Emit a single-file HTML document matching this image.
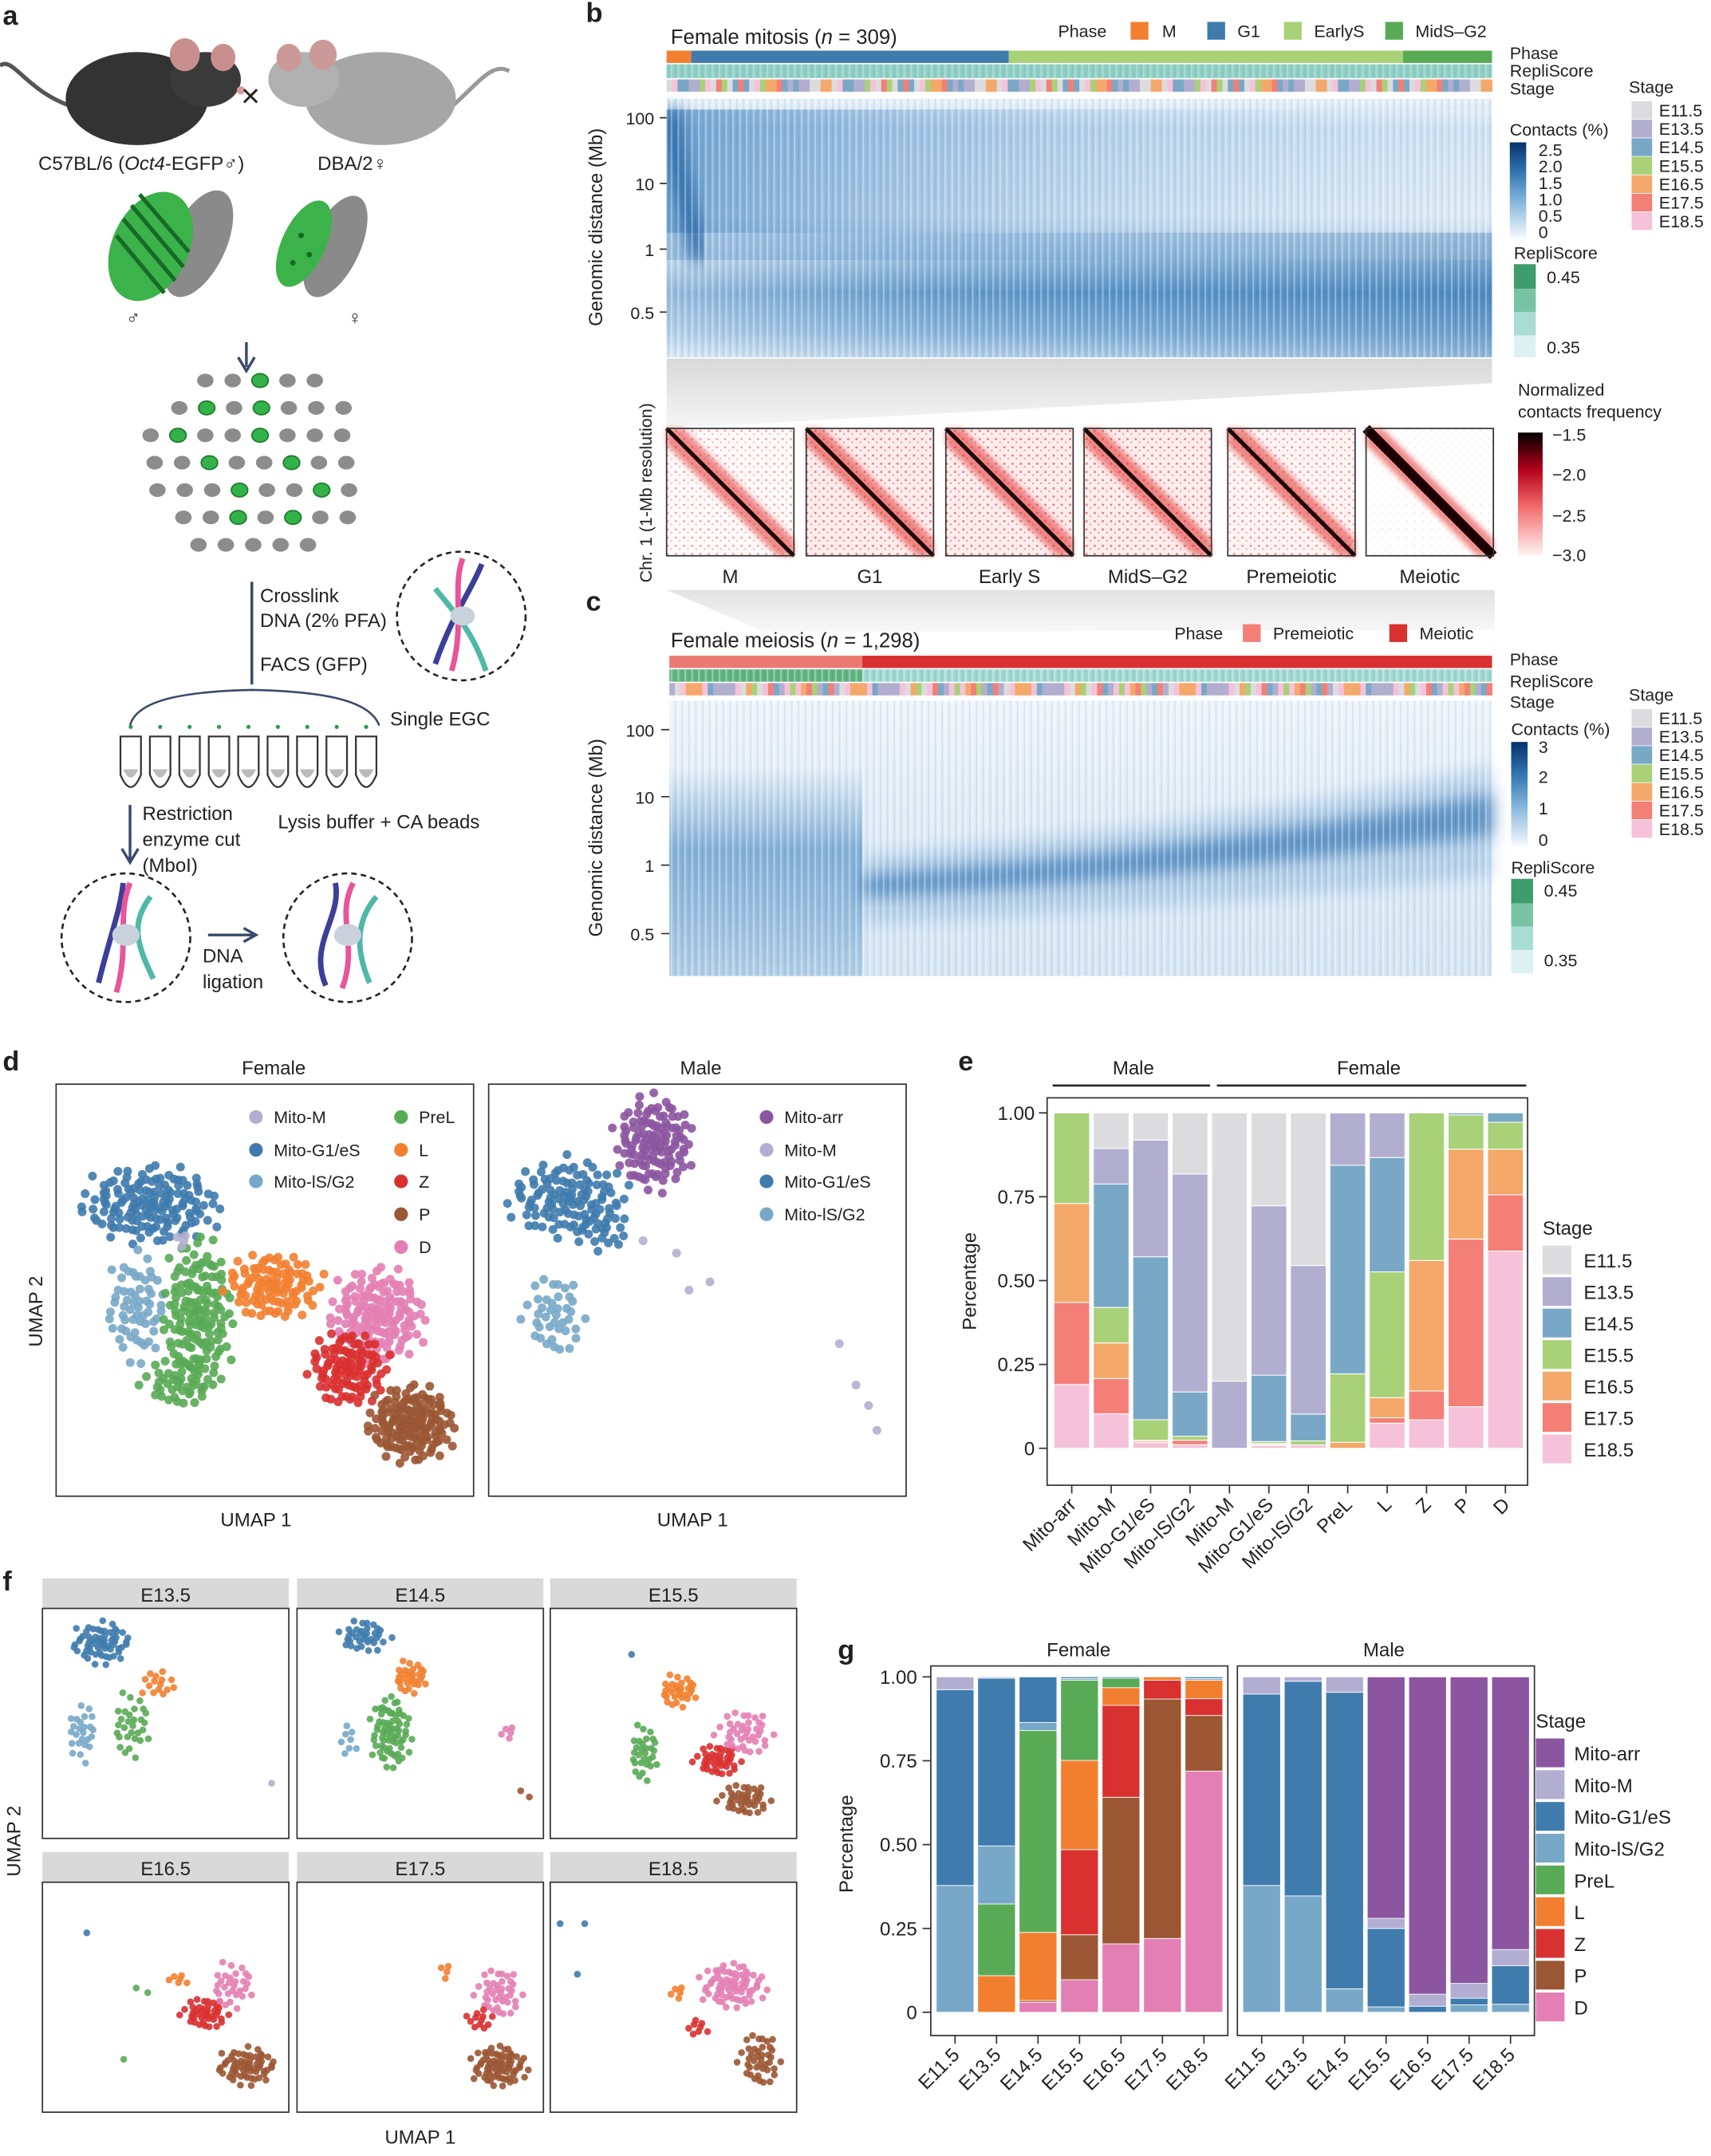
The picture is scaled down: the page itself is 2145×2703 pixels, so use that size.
<!DOCTYPE html>
<html><head><meta charset="utf-8"><title>Figure</title>
<style>
html,body{margin:0;padding:0;background:#fff;}
svg{display:block;font-family:"Liberation Sans",sans-serif;}
text{fill:#231f20;}
.lbl{font-size:14px;}
.sm{font-size:12.5px;}
.pl{font-size:20px;font-weight:bold;}
</style></head>
<body>
<svg id="fig" width="2145" height="2703" viewBox="0 0 1250 1575" preserveAspectRatio="none" xmlns="http://www.w3.org/2000/svg">
<defs>
<linearGradient id="mitoV" x1="0" y1="0" x2="0" y2="1">
<stop offset="0" stop-color="#eaf2f9"/><stop offset="0.12" stop-color="#c4dbee"/><stop offset="0.45" stop-color="#d8e7f3"/><stop offset="0.6" stop-color="#a9c9e4"/><stop offset="0.75" stop-color="#5d97c9"/><stop offset="0.9" stop-color="#8ab6dc"/><stop offset="1" stop-color="#c8ddef"/>
</linearGradient>
<linearGradient id="mitoH" x1="0" y1="0" x2="1" y2="0">
<stop offset="0" stop-color="#3f82bf" stop-opacity="0.8"/><stop offset="0.5" stop-color="#7eaedb" stop-opacity="0.35"/><stop offset="1" stop-color="#ffffff" stop-opacity="0.25"/>
</linearGradient>
<linearGradient id="mitoLow" x1="0" y1="0" x2="1" y2="0">
<stop offset="0" stop-color="#ffffff" stop-opacity="0.35"/><stop offset="0.5" stop-color="#3d7fb9" stop-opacity="0.2"/><stop offset="1" stop-color="#2e6fab" stop-opacity="0.35"/>
</linearGradient>
<linearGradient id="meioV" x1="0" y1="0" x2="0" y2="1">
<stop offset="0" stop-color="#eef4fa"/><stop offset="0.4" stop-color="#e1ecf6"/><stop offset="1" stop-color="#d6e6f3"/>
</linearGradient>
<linearGradient id="meioLeft" x1="0" y1="0" x2="0" y2="1">
<stop offset="0" stop-color="#6ea3d2" stop-opacity="0"/><stop offset="0.4" stop-color="#5d97c9" stop-opacity="0.7"/><stop offset="1" stop-color="#a9c9e4" stop-opacity="0.8"/>
</linearGradient>
<linearGradient id="contactsBar" x1="0" y1="0" x2="0" y2="1">
<stop offset="0" stop-color="#08306b"/><stop offset="0.3" stop-color="#2f73b0"/><stop offset="0.6" stop-color="#7fb2d9"/><stop offset="1" stop-color="#f5f9fd"/>
</linearGradient>
<linearGradient id="normBar" x1="0" y1="0" x2="0" y2="1">
<stop offset="0" stop-color="#000"/><stop offset="0.3" stop-color="#b3001b"/><stop offset="0.6" stop-color="#f26b6b"/><stop offset="1" stop-color="#fff5f5"/>
</linearGradient>
<linearGradient id="wedge" x1="0" y1="0" x2="0" y2="1">
<stop offset="0" stop-color="#cfcfcf"/><stop offset="1" stop-color="#f4f4f4"/>
</linearGradient>
<pattern id="streaks" width="5" height="10" patternUnits="userSpaceOnUse">
<rect x="0" y="0" width="1.2" height="10" fill="#fff" opacity="0.35"/><rect x="3" y="0" width="0.8" height="10" fill="#1d5a99" opacity="0.12"/>
</pattern>
<pattern id="speck" width="6" height="6" patternUnits="userSpaceOnUse">
<rect x="1" y="2" width="1.5" height="1.5" fill="#e4262b" opacity="0.6"/><rect x="4" y="4.5" width="1.2" height="1.2" fill="#e4262b" opacity="0.45"/>
</pattern>
<filter id="blur3"><feGaussianBlur stdDeviation="6"/></filter>
<filter id="blur1"><feGaussianBlur stdDeviation="2"/></filter>
</defs>

<!-- ============ PANEL A ============ -->
<g>
<text class="pl" x="2" y="18">a</text>
<g>
<path d="M60,80 C20,70 10,40 0,48" stroke="#555" stroke-width="3" fill="none"/>
<ellipse cx="100" cy="72" rx="52" ry="34" fill="#333"/>
<ellipse cx="150" cy="58" rx="26" ry="20" fill="#3a3a3a"/>
<ellipse cx="135" cy="40" rx="11" ry="12" fill="#c98f8f"/>
<ellipse cx="163" cy="42" rx="9" ry="10" fill="#c98f8f"/>
<circle cx="176" cy="66" r="3" fill="#d99"/>
</g>
<text x="176" y="78" style="font-size:24px">×</text>
<g>
<path d="M330,78 C350,60 360,45 372,52" stroke="#999" stroke-width="3" fill="none"/>
<ellipse cx="278" cy="72" rx="55" ry="34" fill="#a6a6a6"/>
<ellipse cx="222" cy="58" rx="26" ry="20" fill="#b0b0b0"/>
<ellipse cx="236" cy="40" rx="10" ry="11" fill="#c99"/>
<ellipse cx="211" cy="42" rx="9" ry="10" fill="#c99"/>
</g>
<text class="lbl" x="28" y="124">C57BL/6 (<tspan font-style="italic">Oct4</tspan>-EGFP♂)</text>
<text class="lbl" x="232" y="124">DBA/2♀</text>
<g>
<ellipse cx="145" cy="178" rx="20" ry="42" fill="#8a8a8a" transform="rotate(25 145 178)"/>
<ellipse cx="110" cy="180" rx="28" ry="42" fill="#3cb24a" transform="rotate(25 110 180)"/>
<path d="M90,160 L128,205 M85,172 L120,214 M96,150 L134,195 M102,142 L138,184" stroke="#176b26" stroke-width="3"/>
</g>
<text class="lbl" x="92" y="237">♂</text>
<g>
<ellipse cx="245" cy="180" rx="18" ry="40" fill="#8a8a8a" transform="rotate(25 245 180)"/>
<ellipse cx="222" cy="178" rx="16" ry="34" fill="#3cb24a" transform="rotate(25 222 178)"/>
<circle cx="220" cy="172" r="2" fill="#146b22"/><circle cx="226" cy="186" r="2" fill="#146b22"/><circle cx="214" cy="192" r="2" fill="#146b22"/>
</g>
<text class="lbl" x="254" y="237">♀</text>
<path d="M180,250 L180,268 M174,261 L180,271 L186,261" stroke="#3a4a6a" stroke-width="2" fill="none"/>
<g id="cells"></g>
<path d="M184,425 L184,500" stroke="#3a4a6a" stroke-width="2"/>
<text class="lbl" x="190" y="440">Crosslink</text>
<text class="lbl" x="190" y="458">DNA (2% PFA)</text>
<text class="lbl" x="190" y="490">FACS (GFP)</text>
<g>
<circle cx="337" cy="450" r="47" fill="none" stroke="#222" stroke-dasharray="4 3" stroke-width="1.5"/>
<path d="M318,485 C330,450 345,430 352,412" stroke="#3b3f9a" stroke-width="4" fill="none"/>
<path d="M330,490 C340,455 330,430 338,408" stroke="#e8559a" stroke-width="4" fill="none"/>
<path d="M355,490 C345,460 330,445 318,430" stroke="#4fb8a8" stroke-width="4" fill="none"/>
<ellipse cx="338" cy="450" rx="9" ry="7" fill="#c9d2dc"/>
</g>
<path d="M184,504 C140,505 100,510 95,530 M184,504 C230,505 270,510 277,530" stroke="#3a4a6a" stroke-width="1.5" fill="none"/>
<text class="lbl" x="285" y="530">Single EGC</text>
<g id="tubes"></g>
<path d="M95,588 L95,628 M89,620 L95,630 L101,620" stroke="#3a4a6a" stroke-width="2" fill="none"/>
<text class="lbl" x="104" y="599">Restriction</text>
<text class="lbl" x="104" y="618">enzyme cut</text>
<text class="lbl" x="104" y="637">(MboI)</text>
<text class="lbl" x="203" y="605">Lysis buffer + CA beads</text>
<g>
<circle cx="92" cy="685" r="47" fill="none" stroke="#222" stroke-dasharray="4 3" stroke-width="1.5"/>
<path d="M72,718 C80,685 88,665 90,645" stroke="#3b3f9a" stroke-width="4" fill="none"/>
<path d="M85,725 C95,690 85,670 95,645" stroke="#e8559a" stroke-width="4" fill="none"/>
<path d="M112,715 C100,690 95,675 110,655" stroke="#4fb8a8" stroke-width="4" fill="none"/>
<ellipse cx="92" cy="683" rx="10" ry="8" fill="#c9d2dc"/>
</g>
<path d="M152,683 L185,683 M178,678 L187,683 L178,688" stroke="#3a4a6a" stroke-width="2" fill="none"/>
<text class="lbl" x="148" y="703">DNA</text>
<text class="lbl" x="148" y="722">ligation</text>
<g>
<circle cx="254" cy="685" r="47" fill="none" stroke="#222" stroke-dasharray="4 3" stroke-width="1.5"/>
<path d="M238,720 C225,690 250,670 245,645" stroke="#3b3f9a" stroke-width="4" fill="none"/>
<path d="M250,722 C262,690 245,670 258,645" stroke="#e8559a" stroke-width="4" fill="none"/>
<path d="M270,718 C258,690 262,670 275,655" stroke="#4fb8a8" stroke-width="4" fill="none"/>
<ellipse cx="254" cy="683" rx="10" ry="8" fill="#c9d2dc"/>
</g>
</g>

<!-- ============ PANEL B ============ -->
<g>
<text class="pl" x="428" y="16">b</text>
<text x="490" y="32" style="font-size:15px">Female mitosis (<tspan font-style="italic">n</tspan> = 309)</text>
<g class="sm">
<text x="773" y="27">Phase</text>
<rect x="826" y="16" width="13" height="13" fill="#f27f30"/><text x="849" y="27">M</text>
<rect x="882" y="16" width="13" height="13" fill="#3f7bad"/><text x="904" y="27">G1</text>
<rect x="938" y="16" width="13" height="13" fill="#a8d178"/><text x="960" y="27">EarlyS</text>
<rect x="1012" y="16" width="13" height="13" fill="#59aa55"/><text x="1034" y="27">MidS–G2</text>
</g>
<g>
<rect x="487" y="37" width="18" height="9" fill="#f27f30"/>
<rect x="505" y="37" width="232" height="9" fill="#3f7bad"/>
<rect x="737" y="37" width="288" height="9" fill="#a8d178"/>
<rect x="1025" y="37" width="65" height="9" fill="#59aa55"/>
</g>
<rect x="487" y="47" width="603" height="10" fill="#8fcfc4"/>
<rect x="487" y="47" width="603" height="10" fill="url(#streaks)" opacity="0.8"/>
<g id="stageTrackB"></g>
<rect x="487" y="72" width="603" height="189" fill="url(#mitoV)"/>
<rect x="487" y="80" width="603" height="110" fill="url(#mitoH)" opacity="0.8"/>
<rect x="487" y="170" width="603" height="91" fill="url(#mitoLow)"/>
<path d="M490,80 C495,130 505,160 512,190" stroke="#1f5fa0" stroke-width="14" fill="none" filter="url(#blur3)" opacity="0.8"/>
<rect x="487" y="72" width="603" height="189" fill="url(#streaks)"/>
<g class="sm" text-anchor="end">
<text x="478" y="91">100</text><text x="478" y="139">10</text><text x="478" y="187">1</text><text x="478" y="233">0.5</text>
<path d="M482,86 H487 M482,134 H487 M482,182 H487 M482,228 H487" stroke="#333"/>
</g>
<text class="lbl" transform="translate(440,166) rotate(-90)" text-anchor="middle">Genomic distance (Mb)</text>
<g class="sm">
<text x="1103" y="43">Phase</text><text x="1103" y="56">RepliScore</text><text x="1103" y="69">Stage</text>
</g>
<g id="stageLegB"></g>
<g class="sm">
<text x="1103" y="99">Contacts (%)</text>
<rect x="1103" y="104" width="12" height="70" fill="url(#contactsBar)"/>
<text x="1124" y="114">2.5</text><text x="1124" y="126">2.0</text><text x="1124" y="138">1.5</text><text x="1124" y="150">1.0</text><text x="1124" y="162">0.5</text><text x="1124" y="174">0</text>
</g>
<g class="sm">
<text x="1106" y="189">RepliScore</text>
<rect x="1106" y="193" width="16" height="18" fill="#3e9d6c"/><rect x="1106" y="211" width="16" height="17" fill="#79c3a5"/><rect x="1106" y="228" width="16" height="17" fill="#a9dcd2"/><rect x="1106" y="245" width="16" height="16" fill="#def1f2"/>
<text x="1130" y="207">0.45</text><text x="1130" y="258">0.35</text>
</g>
<polygon points="487,262 1090,262 1090,280 487,313" fill="url(#wedge)" opacity="0.8"/>
<polygon points="487,431 1092,431 1092,460 560,462" fill="url(#wedge)" opacity="0.6"/>
<g id="hicTiles"></g>
<text class="sm" transform="translate(476,360) rotate(-90)" text-anchor="middle">Chr. 1 (1-Mb resolution)</text>
<g class="sm">
<text x="1109" y="289">Normalized</text><text x="1109" y="305">contacts frequency</text>
<rect x="1109" y="316" width="18" height="90" fill="url(#normBar)"/>
<text x="1134" y="322">−1.5</text><text x="1134" y="351">−2.0</text><text x="1134" y="381">−2.5</text><text x="1134" y="410">−3.0</text>
</g>
</g>

<!-- ============ PANEL C ============ -->
<g>
<text class="pl" x="428" y="446">c</text>
<text x="490" y="473" style="font-size:15px">Female meiosis (<tspan font-style="italic">n</tspan> = 1,298)</text>
<g class="sm">
<text x="858" y="467">Phase</text>
<rect x="908" y="456" width="13" height="13" fill="#f47f76"/><text x="930" y="467">Premeiotic</text>
<rect x="1015" y="456" width="13" height="13" fill="#d93030"/><text x="1037" y="467">Meiotic</text>
</g>
<rect x="489" y="479" width="141" height="9" fill="#ec7a72"/>
<rect x="630" y="479" width="460" height="9" fill="#d93030"/>
<rect x="489" y="489" width="141" height="9" fill="#5fb47f"/>
<rect x="630" y="489" width="460" height="9" fill="#9fd8cf"/>
<rect x="489" y="489" width="601" height="9" fill="url(#streaks)"/>
<g id="stageTrackC"></g>
<rect x="489" y="512" width="601" height="201" fill="url(#meioV)"/>
<rect x="489" y="560" width="141" height="153" fill="url(#meioLeft)"/>
<path d="M630,640 C750,630 900,615 1090,580 L1090,610 C900,635 750,650 630,655 Z" fill="#2f6fae" opacity="0.75" filter="url(#blur3)"/>
<path d="M630,625 C750,615 900,600 1090,560 L1090,640 C900,660 750,670 630,675 Z" fill="#6ea3d2" opacity="0.35" filter="url(#blur3)"/>
<rect x="489" y="512" width="601" height="201" fill="url(#streaks)"/>
<g class="sm" text-anchor="end">
<text x="478" y="538">100</text><text x="478" y="587">10</text><text x="478" y="637">1</text><text x="478" y="687">0.5</text>
<path d="M483,533 H489 M483,582 H489 M483,632 H489 M483,682 H489" stroke="#333"/>
</g>
<text class="lbl" transform="translate(440,612) rotate(-90)" text-anchor="middle">Genomic distance (Mb)</text>
<g class="sm">
<text x="1103" y="486">Phase</text><text x="1103" y="502">RepliScore</text><text x="1103" y="517">Stage</text>
</g>
<g id="stageLegC"></g>
<g class="sm">
<text x="1104" y="537">Contacts (%)</text>
<rect x="1104" y="542" width="12" height="76" fill="url(#contactsBar)"/>
<text x="1124" y="550">3</text><text x="1124" y="572">2</text><text x="1124" y="595">1</text><text x="1124" y="618">0</text>
</g>
<g class="sm">
<text x="1104" y="638">RepliScore</text>
<rect x="1104" y="642" width="16" height="18" fill="#3e9d6c"/><rect x="1104" y="660" width="16" height="17" fill="#79c3a5"/><rect x="1104" y="677" width="16" height="17" fill="#a9dcd2"/><rect x="1104" y="694" width="16" height="17" fill="#def1f2"/>
<text x="1128" y="655">0.45</text><text x="1128" y="706">0.35</text>
</g>
</g>

<!-- ============ PANEL D ============ -->
<g>
<text class="pl" x="2" y="782">d</text>
<text class="lbl" x="200" y="785" text-anchor="middle">Female</text>
<text class="lbl" x="512" y="785" text-anchor="middle">Male</text>
<rect x="41" y="792" width="305" height="301" fill="none" stroke="#333"/>
<rect x="357" y="792" width="305" height="301" fill="none" stroke="#333"/>
<g id="umapD"></g>
<g id="legD" class="sm"></g>
<text class="lbl" x="187" y="1115" text-anchor="middle">UMAP 1</text>
<text class="lbl" x="506" y="1115" text-anchor="middle">UMAP 1</text>
<text class="lbl" transform="translate(31,958) rotate(-90)" text-anchor="middle">UMAP 2</text>
</g>

<!-- ============ PANEL E ============ -->
<g>
<text class="pl" x="700" y="782">e</text>
<text class="lbl" x="828" y="785" text-anchor="middle">Male</text>
<line x1="769" y1="793" x2="884" y2="793" stroke="#222" stroke-width="1.5"/>
<text class="lbl" x="1000" y="785" text-anchor="middle">Female</text>
<line x1="889" y1="793" x2="1115" y2="793" stroke="#222" stroke-width="1.5"/>
<rect x="765" y="802" width="351" height="283" fill="none" stroke="#333"/>
<g id="barsE"></g>
<text class="lbl" transform="translate(713,936) rotate(-90)" text-anchor="middle">Percentage</text>
<g id="legE" class="sm"></g>
</g>

<!-- ============ PANEL F ============ -->
<g>
<text class="pl" x="2" y="1162">f</text>
<g id="facetsF"></g>
<text class="lbl" transform="translate(15,1345) rotate(-90)" text-anchor="middle">UMAP 2</text>
<text class="lbl" x="307" y="1566" text-anchor="middle">UMAP 1</text>
</g>

<!-- ============ PANEL G ============ -->
<g>
<text class="pl" x="612" y="1212">g</text>
<text class="lbl" x="788" y="1210" text-anchor="middle">Female</text>
<text class="lbl" x="1011" y="1210" text-anchor="middle">Male</text>
<rect x="680" y="1217" width="217" height="270" fill="none" stroke="#333"/>
<rect x="904" y="1217" width="217" height="270" fill="none" stroke="#333"/>
<g id="barsG"></g>
<text class="lbl" transform="translate(623,1347) rotate(-90)" text-anchor="middle">Percentage</text>
<g id="legG" class="sm"></g>
</g>
</svg>

<script>
var stageNames = ["E11.5","E13.5","E14.5","E15.5","E16.5","E17.5","E18.5"];
var stageColors = ["#dcdcde","#b1aed0","#79a8c7","#a8d178","#f4a86a","#f47f76","#f5c2d9"];
var clusterNames = ["Mito-arr","Mito-M","Mito-G1/eS","Mito-lS/G2","PreL","L","Z","P","D"];
var clusterColors = ["#8c55a0","#b1aed2","#3f7bad","#78a8c8","#59aa55","#f27f30","#d93030","#9b5733","#e37fb4"];

var eCategories = ["Mito-arr","Mito-M","Mito-G1/eS","Mito-lS/G2","Mito-M","Mito-G1/eS","Mito-lS/G2","PreL","L","Z","P","D"];
var eE18 = [0.19,0.103,0.017,0.011,0,0.008,0.01,0,0.075,0.085,0.124,0.588];
var eE17 = [0.245,0.105,0.004,0.013,0,0.003,0,0,0.016,0.086,0.5,0.168];
var eE16 = [0.295,0.106,0.003,0,0,0.003,0,0.018,0.06,0.389,0.268,0.136];
var eE15 = [0.27,0.106,0.061,0.012,0,0.006,0.012,0.204,0.375,0.44,0.102,0.08];
var eE14 = [0,0.368,0.486,0.132,0,0.198,0.08,0.622,0.341,0,0.006,0.028];
var eE13 = [0,0.106,0.348,0.65,0.2,0.505,0.443,0.156,0.133,0,0,0];
var eE11 = [0,0.106,0.081,0.182,0.8,0.277,0.455,0,0,0,0,0];
var eTicks = ["0","0.25","0.50","0.75","1.00"];

var gCategories = ["E11.5","E13.5","E14.5","E15.5","E16.5","E17.5","E18.5"];
var gFemD  = [0,0,0.03,0.097,0.204,0.22,0.719];
var gFemP  = [0,0,0.005,0.134,0.437,0.714,0.166];
var gFemZ  = [0,0,0,0.254,0.274,0.056,0.05];
var gFemL  = [0,0.109,0.203,0.266,0.053,0.01,0.055];
var gFemPreL=[0,0.214,0.602,0.239,0.028,0,0];
var gFemLS = [0.378,0.173,0.024,0.005,0,0,0.005];
var gFemG1 = [0.584,0.5,0.136,0.005,0.004,0,0.005];
var gFemM  = [0.038,0.004,0,0,0,0,0];
var gFemArr= [0,0,0,0,0,0,0];
var gMalLS = [0.378,0.347,0.07,0.016,0,0.022,0.024];
var gMalG1 = [0.571,0.64,0.884,0.234,0.018,0.02,0.115];
var gMalM  = [0.051,0.013,0.046,0.03,0.036,0.044,0.048];
var gMalArr= [0,0,0,0.72,0.946,0.914,0.813];
var gTicks = ["0","0.25","0.50","0.75","1.00"];

var dfGroup = [2,3,4,4,5,8,6,7,1];
var dfX = [22.6,19.3,34,29,52,77,70,85,30];
var dfY = [70.8,45.8,44,27.6,51,44,31,17.6,62];
var dfRx= [16,7,8,8,11,11,9,10,2];
var dfRy= [9,13,18,6,8,11,9,9,2];
var dfN = [150,60,150,40,100,150,100,150,4];
var dmGroup=[0,2,2,3,1,1,1,1,1,1,1,1];
var dmX = [39.7,19,27,15.7,45,53,48,84,88,91,93,37];
var dmY = [85.7,72.4,64,44,59,52,50,37,27,22,16,62];
var dmRx= [9,14,7,7,0,0,0,0,0,0,0,0];
var dmRy= [11,9,5,10,0,0,0,0,0,0,0,0];
var dmN = [120,110,20,40,1,1,1,1,1,1,1,1];

var fTitles = ["E13.5","E14.5","E15.5","E16.5","E17.5","E18.5"];
var fFacet = [0,0,0,0,0, 1,1,1,1,1,1, 2,2,2,2,2,2, 3,3,3,3,3,3,3, 4,4,4,4, 5,5,5,5,5,5,5];
var fGroup = [2,3,4,5,1, 2,5,4,3,8,7, 5,4,6,8,7,2, 7,6,8,5,4,2,4, 7,8,6,5, 8,7,6,5,2,2,2];
var fX = [24,16,36,47,93, 27,46,38,21,86,93, 52,38,68,79,79,33, 83,66,77,55,41,18,33, 82,82,74,60, 74,85,60,52,4,14,11];
var fY = [85,46,49,67,24, 88,70,46,43,46,18, 64,37,34,46,17,80, 20,43,55,58,52,78,23, 20,52,40,61, 55,23,37,52,82,82,60];
var fRx= [12,6,8,7,0, 10,7,8,4,3,3, 8,6,9,11,10,0, 12,9,9,4,4,0,0, 11,9,6,3, 13,8,5,3,0,0,0];
var fRy= [9,12,14,7,0, 7,7,16,8,4,4, 7,12,7,10,7,0, 8,7,10,3,3,0,0, 9,11,5,4, 10,12,4,4,0,0,0];
var fN = [60,25,30,15,1, 35,30,70,8,5,2, 30,30,40,40,40,1, 60,40,30,6,2,1,1, 70,40,12,4, 70,40,8,5,1,1,1];

var NS = "http://www.w3.org/2000/svg";
function mk(tag, attrs, parent) {
  var el = document.createElementNS(NS, tag);
  for (var k in attrs) el.setAttribute(k, attrs[k]);
  if (parent) parent.appendChild(el);
  return el;
}
function txt(x, y, s, parent, extra) {
  var t = mk("text", Object.assign({x: x, y: y}, extra || {}), parent);
  t.textContent = s;
  return t;
}

(function(){
  var g = document.getElementById("cells");
  var rows = [[150,278,5],[125,298,7],[110,318,8],[107,338,8],[115,358,8],[128,378,7],[145,398,5]];
  var greens = {"0,2":1,"1,1":1,"1,3":1,"2,1":1,"2,4":1,"3,2":1,"3,5":1,"4,3":1,"4,6":1,"5,2":1,"5,4":1};
  for (var r = 0; r < rows.length; r++) {
    for (var c = 0; c < rows[r][2]; c++) {
      var isG = greens[r+","+c];
      var e = mk("ellipse", {cx: rows[r][0] + c*20 + (r%2)*6, cy: rows[r][1], rx: 6, ry: 5, fill: isG ? "#34b24a" : "#8c8c8c", stroke: isG ? "#1c7a2c" : "none"}, g);
      
      
    }
  }
  var tg = document.getElementById("tubes");
  for (var i = 0; i < 9; i++) {
    var x = 88 + i*21.5;
    var p = mk("path", {d: "M"+x+",538 h15 v28 q-7.5,18 -15,0 z", fill: "#fff", stroke: "#333", "stroke-width": 1.3}, tg);
    
    
    mk("path", {d: "M"+(x+2)+",562 h11 q-5.5,12 -11,0 z", fill: "#bbb"}, tg);
    mk("circle", {cx: x+7.5, cy: 531, r: 1.5, fill: "#2a9a4a"}, tg);
  }
})();

(function(){
  var seqB = [0,1,2,1,3,4,5,6,2,1,0,6,4,3,2,5,1,6,0,4];
  function track(id, x0, x1, y, h, n, shift) {
    var g = document.getElementById(id);
    var w = (x1 - x0) / n;
    for (var i = 0; i < n; i++) {
      var r = mk("rect", {x: x0 + i*w, y: y, width: w + 0.3, height: h, fill: stageColors[seqB[(i*7 + shift + Math.floor(i/3)) % seqB.length]]}, g);
      
      
    }
  }
  track("stageTrackB", 487, 1090, 58, 9, 150, 0);
  track("stageTrackC", 489, 1090, 499, 9, 150, 3);
  function leg(id, x, y) {
    var g = document.getElementById(id);
    var t = txt(x, y, "Stage", g, {"class": "sm"});
    
    
    for (var i = 0; i < stageNames.length; i++) {
      var r = mk("rect", {x: x+2, y: y + 6 + i*13.5, width: 15, height: 13, fill: stageColors[i]}, g);
      
      
      txt(x + 22, y + 17 + i*13.5, stageNames[i], g, {"class": "sm"});
    }
  }
  leg("stageLegB", 1190, 68);
  leg("stageLegC", 1190, 512);
})();

(function(){
  var g = document.getElementById("hicTiles");
  var xs = [487, 589, 691, 792, 897, 998];
  var names = ["M","G1","Early S","MidS–G2","Premeiotic","Meiotic"];
  var bgOp = [0.05, 0.2, 0.18, 0.18, 0.12, 0.0];
  var spOp = [0.7, 1, 1, 1, 0.8, 0.15];
  for (var i = 0; i < 6; i++) {
    var x = xs[i], y = 313, s = 93;
    var grp = mk("g", {}, g);
    
    
    mk("rect", {x: x, y: y, width: s, height: s, fill: "#fff"}, grp);
    mk("rect", {x: x, y: y, width: s, height: s, fill: "#f5a3a3", opacity: bgOp[i]}, grp);
    mk("rect", {x: x, y: y, width: s, height: s, fill: "url(#speck)", opacity: spOp[i]}, grp);
    mk("polygon", {points: x+","+(y)+" "+(x+12)+","+y+" "+(x+s)+","+(y+s-12)+" "+(x+s)+","+(y+s)+" "+(x+s-12)+","+(y+s)+" "+x+","+(y+12), fill: "#e0302f", opacity: 0.55, filter: "url(#blur1)"}, grp);
    mk("line", {x1: x, y1: y, x2: x+s, y2: y+s, stroke: "#1a0000", "stroke-width": i==5 ? 7 : 3}, grp);
    mk("rect", {x: x, y: y, width: s, height: s, fill: "none", stroke: "#333"}, grp);
    var t = txt(x + s/2, 426, names[i], g, {"class": "lbl", "text-anchor": "middle"});
    
    
  }
})();

function cloud(parent, x0, y0, w, h, cx, cy, rx, ry, n, col, rad) {
  function sx(u) { return x0 + u/100*w; }
  function sy(u) { return y0 + h - u/100*h; }
  for (var i = 0; i < n; i++) {
    var rr = n == 1 ? 0 : Math.pow((i + 0.5)/n, 0.6) * (1 + 0.18*Math.sin(i*1.7));
    var th = i * 2.39996;
    var c = mk("circle", {cx: sx(cx + rx*rr*Math.cos(th)), cy: sy(cy + ry*rr*Math.sin(th)), r: rad, fill: col, opacity: 0.9}, parent);
    
    
  }
}

(function(){
  var g = document.getElementById("umapD");
  for (var i = 0; i < dfX.length; i++) cloud(g, 41, 792, 305, 301, dfX[i], dfY[i], dfRx[i], dfRy[i], dfN[i], clusterColors[dfGroup[i]], 3.2);
  for (var j = 0; j < dmX.length; j++) cloud(g, 357, 792, 305, 301, dmX[j], dmY[j], dmRx[j], dmRy[j], dmN[j], clusterColors[dmGroup[j]], 3.2);
  var L = document.getElementById("legD");
  function item(x, y, ci) {
    var c = mk("circle", {cx: x, cy: y, r: 5, fill: clusterColors[ci]}, L);
    
    
    var t = txt(x + 13, y + 4.5, clusterNames[ci], L);
    
    
  }
  item(187,816,1); item(187,840,2); item(187,863,3);
  item(293,816,4); item(293,840,5); item(293,863,6); item(293,887,7); item(293,911,8);
  item(560,816,0); item(560,840,1); item(560,863,2); item(560,887,3);
})();

(function(){
  var g = document.getElementById("facetsF");
  var cx = [31, 217, 402];
  var ry = [1153, 1353];
  for (var k = 0; k < 6; k++) {
    var x = cx[k % 3], y = ry[Math.floor(k/3)];
    var strip = mk("rect", {x: x, y: y, width: 180, height: 22, fill: "#d9d9d9"}, g);
    
    
    var t = txt(x + 90, y + 17, fTitles[k], g, {"class": "lbl", "text-anchor": "middle"});
    
    
    var fr = mk("rect", {x: x, y: y + 22, width: 180, height: 168, fill: "none", stroke: "#333"}, g);
    
    
  }
  for (var i = 0; i < fX.length; i++) {
    var k2 = fFacet[i];
    cloud(g, cx[k2 % 3], ry[Math.floor(k2/3)] + 22, 180, 168, fX[i], fY[i], fRx[i], fRy[i], fN[i], clusterColors[fGroup[i]], 2.5);
  }
})();

(function(){
  var g = document.getElementById("barsE");
  var y0 = 1058, y1 = 813;
  function sy(v) { return y0 - v*(y0 - y1); }
  var bx0 = 770, step = 28.8, bw = 26;
  function sx(i) { return bx0 + i*step; }
  var series = [eE18, eE17, eE16, eE15, eE14, eE13, eE11];
  var colIdx = [6,5,4,3,2,1,0];
  for (var i = 0; i < eCategories.length; i++) {
    var acc = 0;
    for (var s = 0; s < series.length; s++) {
      var v = series[s][i];
      if (v <= 0) continue;
      var r = mk("rect", {x: sx(i), y: sy(acc + v), width: bw, height: sy(acc) - sy(acc + v), fill: stageColors[colIdx[s]], stroke: "#fff", "stroke-width": 0.6}, g);
      
      
      acc += v;
    }
    mk("line", {x1: sx(i)+bw/2, y1: 1085, x2: sx(i)+bw/2, y2: 1091, stroke: "#333"}, g);
    var t = txt(sx(i)+bw/2+4, 1100, eCategories[i], g, {"class": "lbl", "text-anchor": "end", transform: "rotate(-45 " + (sx(i)+bw/2+4) + " 1100)"});
    
    
  }
  for (var k = 0; k < eTicks.length; k++) {
    var yy = sy(k*0.25);
    mk("line", {x1: 759, y1: yy, x2: 765, y2: yy, stroke: "#333"}, g);
    var tl = txt(756, yy + 5, eTicks[k], g, {"class": "lbl", "text-anchor": "end"});
    
    
  }
  var L = document.getElementById("legE");
  var tt = txt(1127, 902, "Stage", L, {"class": "lbl"});
  
  
  for (var j = 0; j < stageNames.length; j++) {
    var sw = mk("rect", {x: 1127, y: 910 + j*23, width: 21, height: 21, fill: stageColors[j]}, L);
    
    
    var le = txt(1157, 926 + j*23, stageNames[j], L, {"class": "lbl"});
    
    
  }
})();

(function(){
  var g = document.getElementById("barsG");
  var y0 = 1470, y1 = 1225;
  function sy(v) { return y0 - v*(y0 - y1); }
  var step = 30.3, bw = 27.5;
  var fem = [gFemD, gFemP, gFemZ, gFemL, gFemPreL, gFemLS, gFemG1, gFemM, gFemArr];
  var femCol = [8,7,6,5,4,3,2,1,0];
  var mal = [gMalLS, gMalG1, gMalM, gMalArr];
  var malCol = [3,2,1,0];
  function draw(series, cols, fx) {
    for (var i = 0; i < gCategories.length; i++) {
      var x = fx + 4 + i*step, acc = 0;
      for (var s = 0; s < series.length; s++) {
        var v = series[s][i];
        if (v <= 0) continue;
        var r = mk("rect", {x: x, y: sy(acc + v), width: bw, height: sy(acc) - sy(acc + v), fill: clusterColors[cols[s]], stroke: "#fff", "stroke-width": 0.5}, g);
        
        
        acc += v;
      }
      mk("line", {x1: x+bw/2, y1: 1487, x2: x+bw/2, y2: 1493, stroke: "#333"}, g);
      var t = txt(x+bw/2+4, 1502, gCategories[i], g, {"class": "lbl", "text-anchor": "end", transform: "rotate(-45 " + (x+bw/2+4) + " 1502)"});
      
      
    }
  }
  draw(fem, femCol, 680);
  draw(mal, malCol, 904);
  for (var k = 0; k < gTicks.length; k++) {
    var yy = sy(k*0.25);
    mk("line", {x1: 674, y1: yy, x2: 680, y2: yy, stroke: "#333"}, g);
    var tl = txt(670, yy + 5, gTicks[k], g, {"class": "lbl", "text-anchor": "end"});
    
    
  }
  var L = document.getElementById("legG");
  var tt = txt(1122, 1262, "Stage", L, {"class": "lbl"});
  
  
  for (var j = 0; j < clusterNames.length; j++) {
    var sw = mk("rect", {x: 1122, y: 1270 + j*23.2, width: 21, height: 21, fill: clusterColors[j]}, L);
    
    
    var le = txt(1150, 1286 + j*23.2, clusterNames[j], L, {"class": "lbl"});
    
    
  }
})();
</script>
</body></html>
